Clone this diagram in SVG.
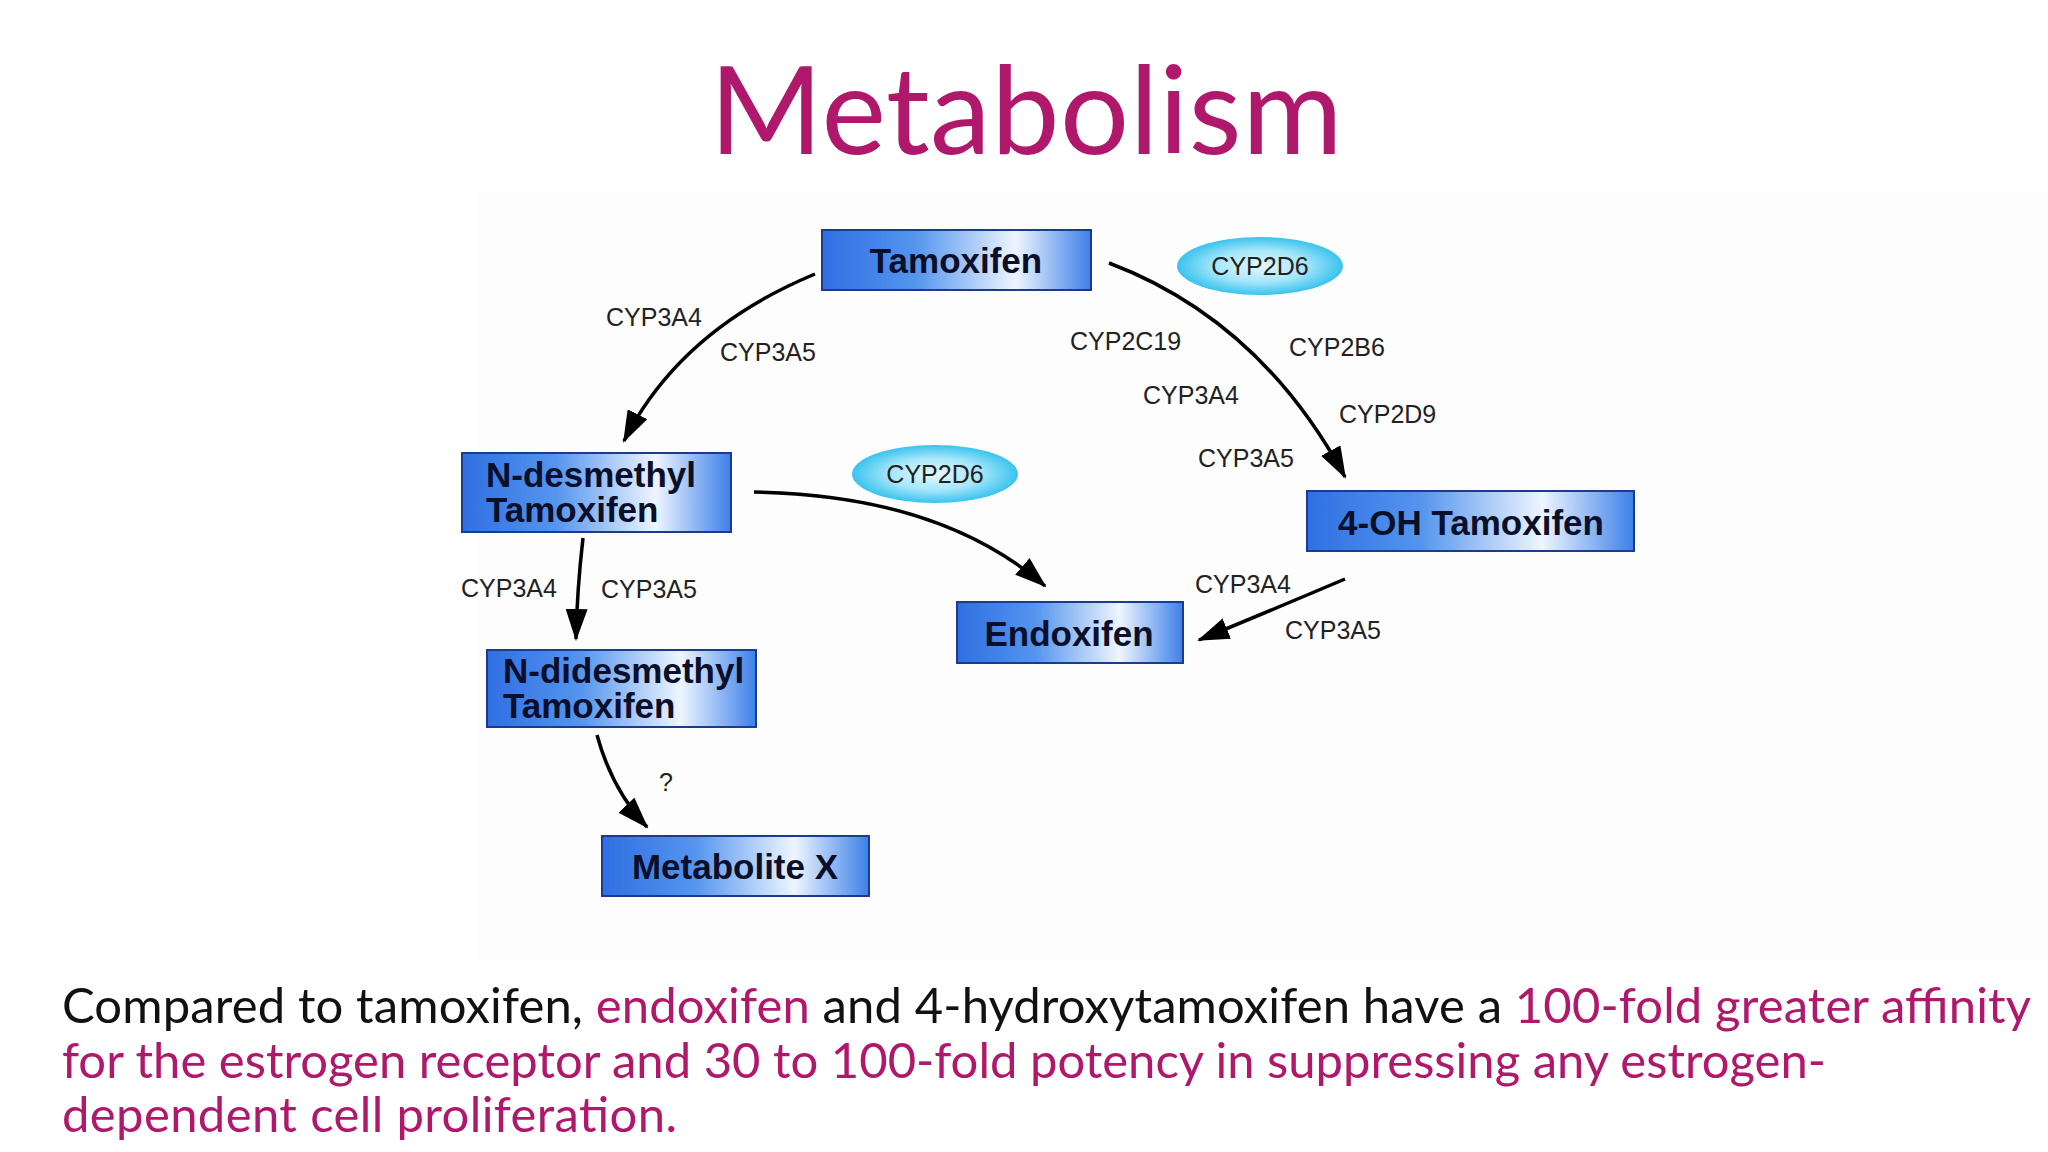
<svg xmlns="http://www.w3.org/2000/svg" width="2048" height="1152" viewBox="0 0 2048 1152">
<defs>
<linearGradient id="boxg" x1="0" y1="0" x2="1" y2="0">
<stop offset="0" stop-color="#2f6fe2"/>
<stop offset="0.35" stop-color="#5595ee"/>
<stop offset="0.72" stop-color="#eef5ff"/>
<stop offset="1" stop-color="#3d80e8"/>
</linearGradient>
<radialGradient id="ellg" cx="0.5" cy="0.5" r="0.5">
<stop offset="0" stop-color="#e4f8fe"/>
<stop offset="0.55" stop-color="#a6e6fa"/>
<stop offset="1" stop-color="#39c3ee"/>
</radialGradient>
<marker id="ah" viewBox="0 0 32 22" markerWidth="32" markerHeight="22" markerUnits="userSpaceOnUse" refX="30" refY="11" orient="auto">
<path d="M0,0 L32,11 L0,22 z" fill="#000"/>
</marker>
<style>
.box{fill:url(#boxg);stroke:#1b3b8c;stroke-width:2}
.bt{font-family:"Liberation Sans",Arial,sans-serif;font-weight:bold;font-size:35px;fill:#0b0f2a}
.lbl{font-family:"Liberation Sans",Arial,sans-serif;font-size:25px;fill:#222}
.ell{fill:url(#ellg)}
.arr{fill:none;stroke:#000;stroke-width:3.5;marker-end:url(#ah)}
.body{font-family:Lato,"Open Sans",sans-serif;font-size:49px;fill:#111}
.mg{fill:#b0186b}
</style>
</defs>
<rect width="2048" height="1152" fill="#fff"/>
<rect x="477" y="193" width="1571" height="767" fill="#fdfdfd"/>
<text x="1026" y="154" text-anchor="middle" font-family="Lato,'Open Sans',sans-serif" font-size="122" fill="#b0186b" textLength="633">Metabolism</text>

<g id="connectors">
<path class="arr" d="M815,274 Q680,330 624,441"/>
<path class="arr" d="M1109,263 Q1260,320 1345,477"/>
<path class="arr" d="M754,492 Q940,495 1045,586"/>
<path class="arr" d="M583,538 Q577,590 576,639"/>
<path class="arr" d="M1345,579 Q1260,615 1199,640"/>
<path class="arr" d="M597,735 Q612,790 647,827"/>
</g>

<g id="labels">
<text class="lbl" x="606" y="326">CYP3A4</text>
<text class="lbl" x="720" y="361">CYP3A5</text>
<text class="lbl" x="1070" y="350">CYP2C19</text>
<text class="lbl" x="1289" y="356">CYP2B6</text>
<text class="lbl" x="1143" y="404">CYP3A4</text>
<text class="lbl" x="1339" y="423">CYP2D9</text>
<text class="lbl" x="1198" y="467">CYP3A5</text>
<text class="lbl" x="461" y="597">CYP3A4</text>
<text class="lbl" x="601" y="598">CYP3A5</text>
<text class="lbl" x="1195" y="593">CYP3A4</text>
<text class="lbl" x="1285" y="639">CYP3A5</text>
<text class="lbl" x="659" y="791">?</text>
</g>

<g id="enz1">
<ellipse class="ell" cx="1260" cy="266" rx="83" ry="29"/>
<text class="lbl" x="1260" y="275" text-anchor="middle">CYP2D6</text>
</g>
<g id="enz2">
<ellipse class="ell" cx="935" cy="474" rx="83" ry="29"/>
<text class="lbl" x="935" y="483" text-anchor="middle">CYP2D6</text>
</g>

<g id="tamoxifen">
<rect class="box" x="822" y="230" width="269" height="60"/>
<text class="bt" x="956" y="273" text-anchor="middle">Tamoxifen</text>
</g>
<g id="ndesmethyl">
<rect class="box" x="462" y="453" width="269" height="79"/>
<text class="bt"><tspan x="486" y="487">N-desmethyl</tspan><tspan x="486" y="522">Tamoxifen</tspan></text>
</g>
<g id="oh">
<rect class="box" x="1307" y="491" width="327" height="60"/>
<text class="bt" x="1471" y="535" text-anchor="middle">4-OH Tamoxifen</text>
</g>
<g id="endoxifen">
<rect class="box" x="957" y="602" width="226" height="61"/>
<text class="bt" x="1069" y="646" text-anchor="middle">Endoxifen</text>
</g>
<g id="ndidesmethyl">
<rect class="box" x="487" y="650" width="269" height="77"/>
<text class="bt"><tspan x="503" y="683">N-didesmethyl</tspan><tspan x="503" y="718">Tamoxifen</tspan></text>
</g>
<g id="metabolitex">
<rect class="box" x="602" y="836" width="267" height="60"/>
<text class="bt" x="735" y="879" text-anchor="middle">Metabolite X</text>
</g>

<g id="caption">
<text class="body" x="62" y="1023" textLength="1969">Compared to tamoxifen, <tspan class="mg">endoxifen</tspan> and 4-hydroxytamoxifen have a <tspan class="mg">100-fold greater affinity</tspan></text>
<text class="body mg" x="62" y="1078" textLength="1764">for the estrogen receptor and 30 to 100-fold potency in suppressing any estrogen-</text>
<text class="body mg" x="62" y="1132" textLength="615">dependent cell proliferation.</text>
</g>
</svg>
